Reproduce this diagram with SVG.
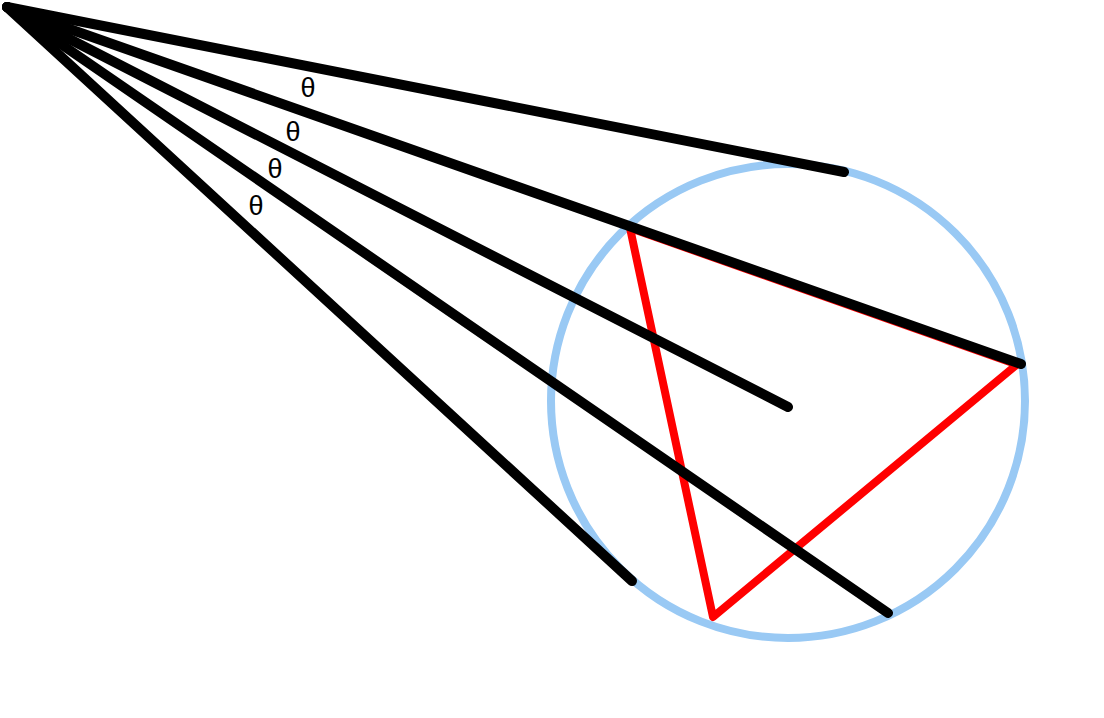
<svg xmlns="http://www.w3.org/2000/svg" width="1104" height="718" viewBox="0 0 1104 718">
<style>
.ray{stroke:#000;stroke-width:10;stroke-linecap:round;fill:none}
.tri{stroke:#f00;stroke-width:8;stroke-linejoin:round;fill:none}
.circ{stroke:#99c9f4;stroke-width:8;fill:none}
.lbl{font-family:"Liberation Sans",Arial,sans-serif;font-size:27px;fill:#000;text-anchor:middle}
</style>
<rect width="1104" height="718" fill="#fff"/>
<circle id="circle" class="circ" cx="788" cy="401" r="237"/>
<polygon id="triangle" class="tri" points="630,228 1017,364.5 713,617"/>
<g id="rays">
<line class="ray" x1="7" y1="7" x2="844" y2="172"/>
<line class="ray" x1="7" y1="7" x2="1021" y2="364"/>
<line class="ray" x1="7" y1="7" x2="788" y2="407"/>
<line class="ray" x1="7" y1="7" x2="888" y2="613"/>
<line class="ray" x1="7" y1="7" x2="632" y2="581"/>
</g>
<g id="labels">
<text class="lbl" x="308" y="97">θ</text>
<text class="lbl" x="293" y="141">θ</text>
<text class="lbl" x="275" y="178">θ</text>
<text class="lbl" x="256" y="215">θ</text>
</g>
</svg>
